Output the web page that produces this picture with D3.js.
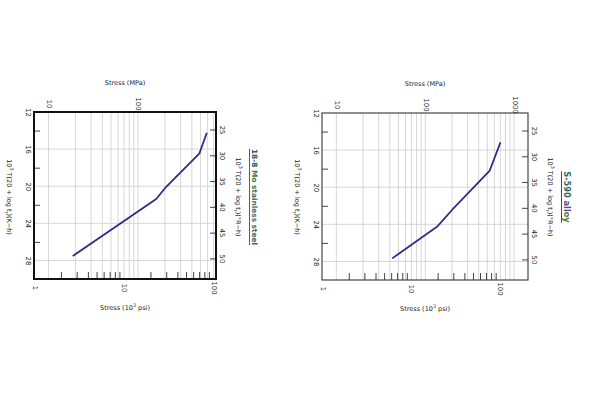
<!DOCTYPE html>
<html>
<head>
<meta charset="utf-8">
<script src="https://cdnjs.cloudflare.com/ajax/libs/d3/7.8.5/d3.min.js"></script>
<style>
  body { margin: 0; background: #fff; }
  svg text { font-family: "DejaVu Sans", sans-serif; fill: #222; }
</style>
</head>
<body>
<div id="chart"></div>
<script>
// 18-8 Mo stainless steel: stress (10^3 psi) vs Larson-Miller parameter (K-h)
const ssStress = [2.71, 23.2, 30.0, 70.6, 85.3];
const ssParam = [27.53, 21.38, 20.06, 16.45, 14.23];

// S-590 alloy
const s590Stress = [6.17, 20.0, 29.4, 77.2, 102];
const s590Param = [27.67, 24.2, 22.4, 18.2, 15.15];

// tick values
const paramTicksK = [12, 16, 20, 24, 28];
const paramMinorK = [14, 18, 22, 26];
const paramTicksR = [25, 30, 35, 40, 45, 50];
const psiLabels = [1, 10, 100];
const psiMinor = [2, 3, 4, 5, 6, 7, 8, 9, 20, 30, 40, 50, 60, 70, 80, 90];
const mpaLabelsSS = [10, 100];
const mpaLabelsS590 = [10, 100, 1000];
const mpaGrid = [10, 20, 30, 40, 50, 60, 70, 80, 90, 100, 200, 300, 400, 500, 600, 700, 800, 900, 1000];

const MPA_PER_KSI = 6.895;
const R_PER_K = 1.8;

const svg = d3.select("#chart").append("svg")
  .attr("width", 591).attr("height", 417);

function rotateLabels(axisG, dx, dy) {
  axisG.selectAll(".tick text")
    .attr("x", 0).attr("y", 0).attr("dy", null)
    .attr("text-anchor", "middle")
    .attr("dominant-baseline", "central")
    .attr("transform", `translate(${dx},${dy}) rotate(90)`);
}

function paramTitle(sel, unit) {
  sel.append("tspan").text("10");
  sel.append("tspan").attr("baseline-shift", "super").attr("font-size", 4.8).text("3");
  sel.append("tspan").text(" T(20 + log t");
  sel.append("tspan").attr("baseline-shift", "sub").attr("font-size", 4.8).text("r");
  sel.append("tspan").text(")(" + unit + ")");
}

function drawPanel(p) {
  const g = svg.append("g");
  const cx = (p.x0 + p.x1) / 2;
  const cy = 197;

  var x = d3.scaleLog().domain([1, p.psiMax]).range([p.x0, p.x1]);
  var xm = d3.scaleLog().domain([MPA_PER_KSI, p.psiMax * MPA_PER_KSI]).range([p.x0, p.x1]);
  var y = d3.scaleLinear().domain([12, 30]).range([p.y0, p.y1]);
  var yr = d3.scaleLinear().domain([12 * R_PER_K, 30 * R_PER_K]).range([p.y0, p.y1]);

  /// grid lines (MPa verticals, K-h horizontals)
  g.append("g").selectAll("line")
    .data(mpaGrid.filter(d => d >= xm.domain()[0] && d <= xm.domain()[1]))
    .join("line")
    .attr("x1", d => xm(d)).attr("x2", d => xm(d))
    .attr("y1", p.y0).attr("y2", p.y1)
    .attr("stroke", "#d2d2d2").attr("stroke-width", 0.9);
  g.append("g").selectAll("line")
    .data(paramTicksK.slice(1))
    .join("line")
    .attr("x1", p.x0).attr("x2", p.x1)
    .attr("y1", d => y(d)).attr("y2", d => y(d))
    .attr("stroke", "#d2d2d2").attr("stroke-width", 0.9);

  /// inward tick marks
  const tickColor = "#444";
  g.append("g").attr("transform", `translate(0,${p.y1})`).attr("color", tickColor)
    .call(d3.axisTop(x).tickValues(psiMinor.filter(d => d < p.psiMax)).tickSize(7).tickFormat(""))
    .call(a => a.select(".domain").remove());
  g.append("g").attr("transform", `translate(${p.x0},0)`).attr("color", tickColor)
    .call(d3.axisRight(y).tickValues(paramMinorK).tickSize(6).tickFormat(""))
    .call(a => a.select(".domain").remove());
  g.append("g").attr("transform", `translate(${p.x1},0)`).attr("color", tickColor)
    .call(d3.axisLeft(yr).tickValues(paramTicksR).tickSize(6).tickFormat(""))
    .call(a => a.select(".domain").remove());

  /// tick labels
  const fmt = d3.format("d");
  const lab = (sel) => sel.attr("font-size", 6.8).attr("font-family", "DejaVu Sans").attr("color", "#222")
    .call(a => a.select(".domain").remove());
  g.append("g").attr("transform", `translate(0,${p.y0})`)
    .call(d3.axisTop(xm).tickValues(p.mpaLabels).tickSize(0).tickFormat(fmt))
    .call(lab).call(a => rotateLabels(a, 0, -8));
  g.append("g").attr("transform", `translate(0,${p.y1})`)
    .call(d3.axisBottom(x).tickValues(psiLabels).tickSize(0).tickFormat(fmt))
    .call(lab).call(a => rotateLabels(a, 0, 9));
  g.append("g").attr("transform", `translate(${p.x0},0)`)
    .call(d3.axisLeft(y).tickValues(paramTicksK).tickSize(0).tickFormat(fmt))
    .call(lab).call(a => rotateLabels(a, -6, 0));
  g.append("g").attr("transform", `translate(${p.x1},0)`)
    .call(d3.axisRight(yr).tickValues(paramTicksR).tickSize(0).tickFormat(fmt))
    .call(lab).call(a => rotateLabels(a, 6, 0));

  /// the curve
  var line = d3.line()
    .x(d => x(d[0]))
    .y(d => y(d[1]));
  g.append("path")
    .datum(d3.zip(p.stress, p.param))
    .attr("d", line)
    .attr("fill", "none")
    .attr("stroke", "#2e2e86")
    .attr("stroke-width", 1.8)
    .attr("stroke-linejoin", "round");

  /// frame
  g.append("rect")
    .attr("x", p.x0).attr("y", p.y0)
    .attr("width", p.x1 - p.x0).attr("height", p.y1 - p.y0)
    .attr("fill", "none").attr("stroke", p.frameColor).attr("stroke-width", p.frameWidth);

  /// axis titles
  g.append("text").attr("x", cx).attr("y", p.y0 - 29)
    .attr("text-anchor", "middle").attr("dominant-baseline", "central")
    .attr("font-size", 6.5).text("Stress (MPa)");
  var bt = g.append("text").attr("x", cx).attr("y", p.y1 + 29)
    .attr("text-anchor", "middle").attr("dominant-baseline", "central")
    .attr("font-size", 6.5);
  bt.append("tspan").text("Stress (10");
  bt.append("tspan").attr("baseline-shift", "super").attr("font-size", 4.8).text("3");
  bt.append("tspan").text(" psi)");

  g.append("text").attr("transform", `translate(${p.x0 - 25},${cy}) rotate(90)`)
    .attr("text-anchor", "middle").attr("dominant-baseline", "central")
    .attr("font-size", 6.5).call(s => paramTitle(s, "K\u2212h"));
  g.append("text").attr("transform", `translate(${p.x1 + 22},${cy}) rotate(90)`)
    .attr("text-anchor", "middle").attr("dominant-baseline", "central")
    .attr("font-size", 6.5).call(s => paramTitle(s, "\u00b0R\u2212h"));

  /// chart title
  var t = g.append("text").attr("transform", `translate(${p.x1 + 39},${cy}) rotate(90)`)
    .attr("text-anchor", "middle").attr("dominant-baseline", "central")
    .attr("font-size", p.titleSize).attr("font-weight", "bold")
    .attr("text-decoration", "underline");
  p.title.forEach(function (part) {
    t.append("tspan").attr("fill", part[1]).style("fill", part[1]).text(part[0]);
  });
}

drawPanel({
  x0: 34, x1: 216, y0: 112, y1: 279,
  psiMax: 108,
  mpaLabels: mpaLabelsSS,
  stress: ssStress, param: ssParam,
  frameColor: "#111", frameWidth: 2,
  titleSize: 7.4,
  title: [["18-8", "#2c5870"], [" Mo", "#3f7a44"], [" stainless", "#566b58"], [" stee", "#4d6a50"], ["l", "#7a2452"]]
});

drawPanel({
  x0: 322, x1: 528, y0: 113, y1: 280,
  psiMax: 208,
  mpaLabels: mpaLabelsS590,
  stress: s590Stress, param: s590Param,
  frameColor: "#333", frameWidth: 1.1,
  titleSize: 8.2,
  title: [["S-590", "#2f6a5a"], [" all", "#5a4a7a"], ["oy", "#4f7a3a"]]
});
</script>
</body>
</html>
